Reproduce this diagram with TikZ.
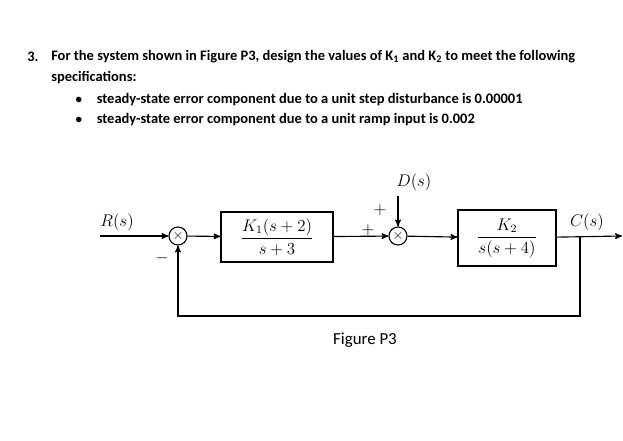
\documentclass[tikz,border=0pt]{standalone}
\usepackage{amsmath}
\usepackage{fontspec}
\setmainfont{Carlito}
\usetikzlibrary{positioning, arrows}
\begin{document}
\begin{tikzpicture}[x=0.025cm,y=-0.025cm,->,>=stealth',thick,
	block/.style={draw, minimum width=2.8cm, minimum height=1.25cm, font=\large},
	sum/.style={circle, draw, minimum size=0.45cm, inner sep=0pt},
	label/.style={font=\large},
	txt/.style={anchor=west, font=\bfseries\fontsize{10.3}{12}\selectfont}]
	\useasboundingbox (0,0) rectangle (623,440);
	% problem text
	\node[txt] (num) at (22,57) {3.};
	\node[txt] (line1) at (46,57) {For the system shown in Figure P3, design the values of K\textsubscript{1} and K\textsubscript{2} to meet the following};
	\node[txt] (line2) at (46,78) {specifications:};
	\node[txt] (b1) at (70,100) {$\bullet$\hspace{1em}steady-state error component due to a unit step disturbance is 0.00001};
	\node[txt] (b2) at (70,120) {$\bullet$\hspace{1em}steady-state error component due to a unit ramp input is 0.002};
	% diagram
	\coordinate (IN) at (100,236);
	\node[sum] (S1) at (178,236) {$\times$};
	\node[block] (G1) at (277,237) {$\dfrac{K_1(s+2)}{s+3}$};
	\node[sum] (S2) at (398,236) {$\times$};
	\node[block, minimum width=2.45cm, minimum height=1.4cm] (G2) at (507,238) {$\dfrac{K_2}{s(s+4)}$};
	\coordinate (OUT) at (622,236);
	\coordinate (TAP) at (580,236);
	\coordinate (DIN) at (398,196);
	\coordinate (FB) at (178,316);
	\node[label] (R) at (117,222) {$R(s)$};
	\node[label] (C) at (587,222) {$C(s)$};
	\node[label] (D) at (414,182) {$D(s)$};
	\node[font=\large] (m1) at (162,258) {$-$};
	\node[font=\large] (p1) at (368,230) {$+$};
	\node[font=\large] (p2) at (380,210) {$+$};
	\node[font=\large] (fig) at (365,340) {Figure P3};
	\draw (IN) -- (S1);
	\draw (S1) -- (G1);
	\draw (G1) -- (S2);
	\draw (DIN) -- (S2);
	\draw (S2) -- (G2);
	\draw (G2) -- (OUT);
	\draw (TAP) |- (FB) -- (S1);
\end{tikzpicture}
\end{document}
